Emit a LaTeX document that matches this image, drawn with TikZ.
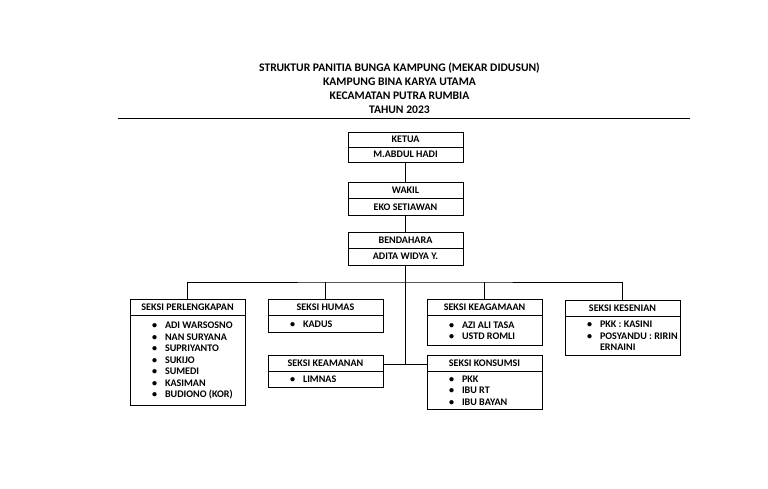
\documentclass[tikz,border=0pt]{standalone}
\usepackage{fontspec}
\setmainfont{Carlito}
\usetikzlibrary{positioning}
\tikzset{orgline/.style={line width=0.9pt},
  headbox/.style={draw,line width=0.9pt,outer sep=0pt,inner sep=0pt,minimum width=115pt,minimum height=16.5pt,font=\bfseries\fontsize{10.1}{11.5}\selectfont},
  listbox/.style={draw,line width=0.9pt,outer sep=0pt,inner xsep=0pt,inner ysep=0pt,text width=115pt,minimum height=#1,align=left,font=\bfseries\fontsize{10.1}{11.5}\selectfont}}
\newcommand{\itm}[1]{\hspace*{22pt}\makebox[13pt][l]{\textbullet}{\spaceskip=0pt\xspaceskip=0pt #1}}
\newcommand{\itmcont}[1]{\hspace*{35pt}{\spaceskip=0pt\xspaceskip=0pt #1}}

\begin{document}
\begin{tikzpicture}[x=1pt,y=-1pt,orgline]
\useasboundingbox (0,0) rectangle (768,489);
\node (title) [align=center,font=\bfseries\fontsize{11.6}{14}\selectfont] at (399.5,88) {STRUKTUR PANITIA BUNGA KAMPUNG (MEKAR DIDUSUN)\\KAMPUNG BINA KARYA UTAMA\\KECAMATAN PUTRA RUMBIA\\TAHUN 2023};
\draw[line width=1.8pt] (118,118.5) -- (690,118.5);
\node (ketua) [headbox,anchor=north,minimum height=15pt] at (405.5,132) {KETUA};
\node (ketuab) [headbox,below=0pt of ketua,minimum height=15pt] {M.ABDUL HADI};
\node (wakil) [headbox,anchor=north] at (405.5,182) {WAKIL};
\node (wakilb) [headbox,below=0pt of wakil] {EKO SETIAWAN};
\node (bend) [headbox,anchor=north] at (405.5,232) {BENDAHARA};
\node (bendb) [headbox,below=0pt of bend] {ADITA WIDYA Y.};
\node (perl) [headbox,anchor=north] at (187.5,299) {SEKSI PERLENGKAPAN};
\node (perlb) [listbox=90pt,below=0pt of perl] {\itm{ADI WARSOSNO}\\\itm{NAN SURYANA}\\\itm{SUPRIYANTO}\\\itm{SUKIJO}\\\itm{SUMEDI}\\\itm{KASIMAN}\\\itm{BUDIONO (KOR)}};
\node (humas) [headbox,anchor=north] at (325.5,299) {SEKSI HUMAS};
\node (humasb) [listbox=17pt,below=0pt of humas] {\itm{KADUS}};
\node (agama) [headbox,anchor=north] at (484.5,299) {SEKSI KEAGAMAAN};
\node (agamab) [listbox=30pt,below=0pt of agama] {\itm{AZI ALI TASA}\\\itm{USTD ROMLI}};
\node (seni) [headbox,anchor=north] at (622.5,300) {SEKSI KESENIAN};
\node (senib) [listbox=39pt,below=0pt of seni] {\itm{PKK : KASINI}\\\itm{POSYANDU : RIRIN}\\\itmcont{ERNAINI}};
\node (aman) [headbox,anchor=north] at (325.5,355) {SEKSI KEAMANAN};
\node (amanb) [listbox=16pt,below=0pt of aman] {\itm{LIMNAS}};
\node (kons) [headbox,anchor=north] at (484.5,355) {SEKSI KONSUMSI};
\node (konsb) [listbox=38pt,below=0pt of kons] {\itm{PKK}\\\itm{IBU RT}\\\itm{IBU BAYAN}};
\coordinate (bus) at (405.5,282);
\coordinate (join) at (405.5,364);
\draw (ketuab) -- (wakil);
\draw (wakilb) -- (bend);
\draw (bendb) -- (join);
\draw (aman.east |- join) -- (kons.west |- join);
\draw (perl) |- (bus) -| (seni);
\draw (humas) -- (humas |- bus);
\draw (agama) -- (agama |- bus);
\end{tikzpicture}
\end{document}
